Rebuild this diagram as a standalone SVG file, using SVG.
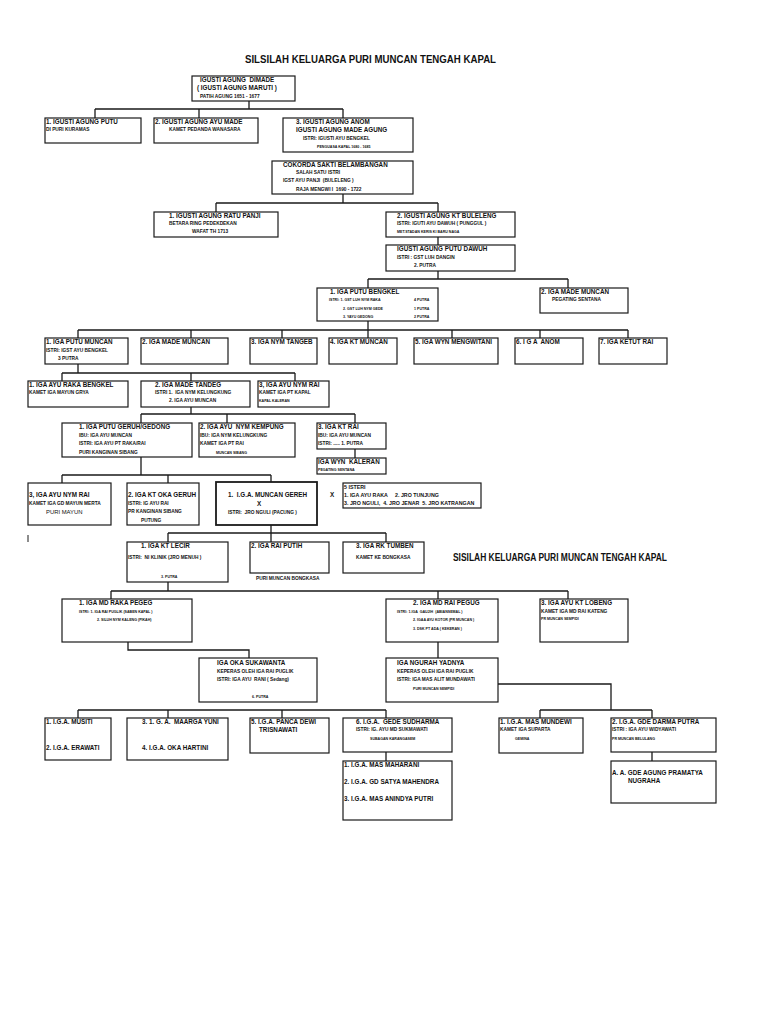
<svg xmlns="http://www.w3.org/2000/svg" width="768" height="1024" viewBox="0 0 768 1024">
<style>
text{font-family:"Liberation Sans",Arial,sans-serif;font-weight:bold;fill:#111;white-space:pre}
.t{font-size:10.5px}
.n{font-size:6.3px}
.s{font-size:4.8px}
.m{font-size:5.3px}
.x{font-size:3.6px}
.r{font-size:5.9px;font-weight:normal}
rect{fill:#fff;stroke:#1a1a1a;stroke-width:1.2}
.thick{stroke-width:1.8}
#connectors path{fill:none;stroke:#1a1a1a;stroke-width:1.3}
</style>
<rect x="0" y="0" width="768" height="1024" style="fill:#fff;stroke:none"/>
<text class="t" x="245" y="63" textLength="251" lengthAdjust="spacingAndGlyphs">SILSILAH KELUARGA PURI MUNCAN TENGAH KAPAL</text>
<text class="t" x="453" y="561" textLength="214" lengthAdjust="spacingAndGlyphs">SISILAH KELUARGA PURI MUNCAN TENGAH KAPAL</text>

<g id="connectors">
<path d="M249,101V109M95,109H343M95,109V118M199,109V118M343,109V118"/>
<path d="M343,194V203M216,203H438M216,203V212M438,203V212"/>
<path d="M438,237V245"/>
<path d="M438,271V279M368,279H568M368,279V288M568,279V288"/>
<path d="M368,321V330M78,330H628M78,330V338M191,330V338M282,330V338M368,330V338M452,330V338M540,330V338M628,330V338"/>
<path d="M78,364V373M62,373H295M62,373V381M191,373V381M295,373V381"/>
<path d="M191,407V414M141,414H355M141,414V423M227,414V423M355,414V423"/>
<path d="M355,449V458"/>
<path d="M141,457V475M62,475H271M62,475V483M168,475V483M271,475V482"/>
<path d="M271,525V533M168,533H386M168,533V542M271,533V542M386,533V542"/>
<path d="M168,582V591M111,591H568M111,591V599M438,591V599M568,591V599"/>
<path d="M128,642V650H249V658"/>
<path d="M438,642V658"/>
<path d="M78,710H386M78,710V718M168,710V718M282,710V718M386,710V718"/>
<path d="M498,684H611V710M540,710H652M540,710V718M652,710V718"/>
<path d="M386,752V761"/>
<path d="M652,752V761"/>
<path d="M28,535V542" style="stroke-width:1"/>
</g>

<g id="n1"><rect x="192" y="76" width="103" height="25"/>
<text class="n" x="200" y="82">IGUSTI AGUNG  DIMADE</text>
<text class="n" x="197" y="90">( IGUSTI AGUNG MARUTI )</text>
<text class="s" x="200" y="98">PATIH AGUNG 1651 - 1677</text></g>

<g id="n2"><rect x="45" y="118" width="96" height="25"/>
<text class="n" x="46" y="124">1. IGUSTI AGUNG PUTU</text>
<text class="s" x="46" y="131">DI PURI KURAMAS</text></g>

<g id="n3"><rect x="154" y="118" width="104" height="25"/>
<text class="n" x="155" y="124">2. IGUSTI AGUNG AYU MADE</text>
<text class="s" x="169" y="131">KAMET PEDANDA WANASARA</text></g>

<g id="n4"><rect x="283" y="118" width="130" height="34"/>
<text class="n" x="296" y="124">3. IGUSTI AGUNG ANOM</text>
<text class="n" x="296" y="132">IGUSTI AGUNG MADE AGUNG</text>
<text class="s" x="303" y="140">ISTRI: IGUSTI AYU BENGKEL</text>
<text class="x" x="317" y="148">PENGUASA KAPAL 1680 - 1685</text></g>

<g id="n5"><rect x="272" y="161" width="141" height="33"/>
<text class="n" x="283" y="167">COKORDA SAKTI BELAMBANGAN</text>
<text class="s" x="296" y="174">SALAH SATU ISTRI</text>
<text class="s" x="283" y="182">IGST AYU PANJI  (BULELENG )</text>
<text class="s" x="296" y="191">RAJA MENGWI I  1690 - 1722</text></g>

<g id="n6"><rect x="154" y="212" width="124" height="25"/>
<text class="n" x="169" y="218">1. IGUSTI AGUNG RATU PANJI</text>
<text class="s" x="169" y="225">BETARA RING PEDEKDEKAN</text>
<text class="s" x="192" y="233">WAFAT TH 1713</text></g>

<g id="n7"><rect x="386" y="212" width="129" height="25"/>
<text class="n" x="397" y="218">2. IGUSTI AGUNG KT BULELENG</text>
<text class="s" x="397" y="225">ISTRI: IGUTI AYU DAWUH ( PUNGGUL )</text>
<text class="x" x="397" y="233">MET.STADAN KERIS KI BARU NAGA</text></g>

<g id="n8"><rect x="386" y="245" width="129" height="26"/>
<text class="n" x="397" y="251">IGUSTI AGUNG PUTU DAWUH</text>
<text class="s" x="397" y="259">ISTRI : GST LUH DANGIN</text>
<text class="s" x="414" y="267">2. PUTRA</text></g>

<g id="n9"><rect x="317" y="288" width="121" height="33"/>
<text class="n" x="330" y="294">1. IGA PUTU BENGKEL</text>
<text class="x" x="329" y="301">ISTRI: 1. GST LUH NYM RAKA</text>
<text class="x" x="414" y="301">4 PUTRA</text>
<text class="x" x="343" y="310">2. GST LUH NYM GEDE</text>
<text class="x" x="414" y="310">1 PUTRA</text>
<text class="x" x="343" y="318">3. YAYU GEDONG</text>
<text class="x" x="414" y="318">2 PUTRA</text></g>

<g id="n10"><rect x="540" y="288" width="88" height="25"/>
<text class="n" x="541" y="294">2. IGA MADE MUNCAN</text>
<text class="s" x="552" y="301">PEGATING SENTANA</text></g>

<g id="n11"><rect x="45" y="338" width="83" height="26"/>
<text class="n" x="46" y="344">1. IGA PUTU MUNCAN</text>
<text class="s" x="46" y="352">ISTRI: IGST AYU BENGKEL</text>
<text class="s" x="58" y="360">3 PUTRA</text></g>

<g id="n12"><rect x="141" y="338" width="87" height="26"/>
<text class="n" x="142" y="344">2. IGA MADE MUNCAN</text></g>

<g id="n13"><rect x="250" y="338" width="67" height="26"/>
<text class="n" x="251" y="344">3. IGA NYM TANGEB</text></g>

<g id="n14"><rect x="329" y="338" width="68" height="26"/>
<text class="n" x="330" y="344">4. IGA KT MUNCAN</text></g>

<g id="n15"><rect x="414" y="338" width="84" height="26"/>
<text class="n" x="415" y="344">5. IGA WYN MENGWITANI</text></g>

<g id="n16"><rect x="515" y="338" width="68" height="26"/>
<text class="n" x="516" y="344">6. I G A  ANOM</text></g>

<g id="n17"><rect x="599" y="338" width="68" height="26"/>
<text class="n" x="600" y="344">7. IGA KETUT RAI</text></g>

<g id="n18"><rect x="28" y="381" width="100" height="26"/>
<text class="n" x="29" y="387">1. IGA AYU RAKA BENGKEL</text>
<text class="s" x="29" y="394">KAMET IGA MAYUN GRYA</text></g>

<g id="n19"><rect x="141" y="381" width="109" height="26"/>
<text class="n" x="155" y="387">2. IGA MADE TANDEG</text>
<text class="s" x="155" y="394">ISTRI 1.  IGA NYM KELUNGKUNG</text>
<text class="s" x="169" y="402">2. IGA AYU MUNCAN</text></g>

<g id="n20"><rect x="258" y="381" width="71" height="26"/>
<text class="n" x="259" y="387">3, IGA AYU NYM RAI</text>
<text class="s" x="259" y="394">KAMET IGA PT KAPAL</text>
<text class="x" x="259" y="402">KAPAL KALERAN</text></g>

<g id="n21"><rect x="62" y="423" width="130" height="34"/>
<text class="n" x="79" y="429">1. IGA PUTU GERUH/GEDONG</text>
<text class="s" x="79" y="437">IBU: IGA AYU MUNCAN</text>
<text class="s" x="79" y="445">ISTRI: IGA AYU PT RAKA/RAI</text>
<text class="s" x="79" y="454">PURI KANGINAN SIBANG</text></g>

<g id="n22"><rect x="199" y="423" width="96" height="34"/>
<text class="n" x="200" y="429">2. IGA AYU  NYM KEMPUNG</text>
<text class="s" x="200" y="437">IBU: IGA NYM KELUNGKUNG</text>
<text class="s" x="200" y="445">KAMET IGA PT RAI</text>
<text class="x" x="216" y="454">MUNCAN SIBANG</text></g>

<g id="n23"><rect x="317" y="423" width="69" height="26"/>
<text class="n" x="318" y="429">3. IGA KT RAI</text>
<text class="s" x="318" y="437">IBU: IGA AYU MUNCAN</text>
<text class="s" x="318" y="445">ISTRI: ..... 1. PUTRA</text></g>

<g id="n24"><rect x="317" y="458" width="69" height="16"/>
<text class="n" x="318" y="464">IGA WYN  KALERAN</text>
<text class="x" x="318" y="471">PEGATING SENTANA</text></g>

<g id="n25"><rect x="28" y="483" width="83" height="42"/>
<text class="n" x="29" y="497">3, IGA AYU NYM RAI</text>
<text class="s" x="29" y="505">KAMET IGA GD MAYUN MERTA</text>
<text class="r" x="46" y="514">PURI MAYUN</text></g>

<g id="n26"><rect x="127" y="483" width="72" height="42"/>
<text class="n" x="128" y="497">2. IGA KT OKA GERUH</text>
<text class="s" x="128" y="505">ISTRI: IG AYU RAI</text>
<text class="s" x="128" y="513">PR KANGINAN SIBANG</text>
<text class="s" x="141" y="522">PUTUNG</text></g>

<g id="n27"><rect class="thick" x="216" y="482" width="101" height="43"/>
<text class="n" x="228" y="497">1.  I.G.A. MUNCAN GEREH</text>
<text class="n" x="257" y="506">X</text>
<text class="s" x="228" y="514">ISTRI:  JRO NGULI (PACUNG )</text></g>

<text class="n" x="330" y="497">X</text>

<g id="n28"><rect x="343" y="483" width="138" height="25"/>
<text class="m" x="344" y="489">5 ISTERI</text>
<text class="m" x="344" y="497">1. IGA AYU RAKA     2. JRO TUNJUNG</text>
<text class="m" x="344" y="505">3. JRO NGULI,  4. JRO JENAR  5. JRO KATRANGAN</text></g>

<g id="n29"><rect x="127" y="542" width="101" height="40"/>
<text class="n" x="141" y="548">1. IGA KT LECIR</text>
<text class="s" x="128" y="559">ISTRI:  NI KLINIK (JRO MENUH )</text>
<text class="x" x="161" y="578">3. PUTRA</text></g>

<g id="n30"><rect x="250" y="542" width="79" height="31"/>
<text class="n" x="251" y="548">2. IGA RAI PUTIH</text>
<text class="s" x="256" y="580">PURI MUNCAN BONGKASA</text></g>

<g id="n31"><rect x="343" y="542" width="81" height="31"/>
<text class="n" x="356" y="548">3. IGA RK TUMBEN</text>
<text class="s" x="356" y="559">KAMET KE BONGKASA</text></g>

<g id="n32"><rect x="62" y="599" width="130" height="43"/>
<text class="n" x="79" y="605">1. IGA MD RAKA PEGEG</text>
<text class="x" x="79" y="613">ISTRI: 1. IGA RAI PUGLIK (SABEN KAPAL )</text>
<text class="x" x="97" y="621">2. SILUH NYM KALENG (PIKAH)</text></g>

<g id="n33"><rect x="386" y="599" width="112" height="43"/>
<text class="n" x="413" y="605">2. IGA MD RAI PEGUG</text>
<text class="x" x="397" y="613">ISTRI: 1.IGA  GAUJIH  (ABIANSEMAL )</text>
<text class="x" x="413" y="621">2. IGAA AYU KOTOR (PR MUNCAN )</text>
<text class="x" x="413" y="630">3. DSK PT ADA ( KEKERAN )</text></g>

<g id="n34"><rect x="540" y="599" width="88" height="43"/>
<text class="n" x="541" y="605">3. IGA AYU KT LOBENG</text>
<text class="s" x="541" y="613">KAMET IGA MD RAI KATENG</text>
<text class="x" x="541" y="620">PR MUNCAN SEMPIDI</text></g>

<g id="n35"><rect x="199" y="658" width="118" height="44"/>
<text class="n" x="217" y="665">IGA OKA SUKAWANTA</text>
<text class="s" x="217" y="673">KEPERAS OLEH IGA RAI PUGLIK</text>
<text class="s" x="217" y="681">ISTRI: IGA AYU  RANI ( Sedang)</text>
<text class="x" x="252" y="698">6. PUTRA</text></g>

<g id="n36"><rect x="386" y="658" width="112" height="44"/>
<text class="n" x="397" y="665">IGA NGURAH YADNYA</text>
<text class="s" x="397" y="673">KEPERAS OLEH IGA RAI PUGLIK</text>
<text class="s" x="397" y="681">ISTRI: IGA MAS ALIT MUNDAWATI</text>
<text class="x" x="413" y="690">PURI MUNCAN SEMPIDI</text></g>

<g id="n37"><rect x="45" y="718" width="66" height="42"/>
<text class="n" x="46" y="724">1. I.G.A. MUSITI</text>
<text class="n" x="46" y="750">2. I.G.A. ERAWATI</text></g>

<g id="n38"><rect x="127" y="718" width="101" height="42"/>
<text class="n" x="142" y="724">3. 1. G. A.  MAARGA YUNI</text>
<text class="n" x="142" y="750">4. I.G.A. OKA HARTINI</text></g>

<g id="n39"><rect x="250" y="718" width="79" height="35"/>
<text class="n" x="251" y="724">5. I.G.A. PANCA DEWI</text>
<text class="n" x="259" y="732">TRISNAWATI</text></g>

<g id="n40"><rect x="343" y="718" width="109" height="34"/>
<text class="n" x="356" y="724">6. I.G.A.  GEDE SUDHARMA</text>
<text class="s" x="356" y="731">ISTRI: IG. AYU MD SUKMAWATI</text>
<text class="x" x="370" y="740">SUBAGAN KARANGASEM</text></g>

<g id="n41"><rect x="343" y="761" width="109" height="59"/>
<text class="n" x="344" y="767">1. I.G.A. MAS MAHARANI</text>
<text class="n" x="344" y="784">2. I.G.A. GD SATYA MAHENDRA</text>
<text class="n" x="344" y="801">3. I.G.A. MAS ANINDYA PUTRI</text></g>

<g id="n42"><rect x="499" y="718" width="84" height="35"/>
<text class="n" x="500" y="724">1. I.G.A. MAS MUNDEWI</text>
<text class="s" x="500" y="731">KAMET IGA SUPARTA</text>
<text class="x" x="515" y="740">GEMINA</text></g>

<g id="n43"><rect x="611" y="718" width="105" height="34"/>
<text class="n" x="612" y="724">2. I.G.A. GDE DARMA PUTRA</text>
<text class="s" x="612" y="731">ISTRI : IGA AYU WIDYAWATI</text>
<text class="x" x="612" y="740">PR MUNCAN BELULANG</text></g>

<g id="n44"><rect x="611" y="761" width="105" height="42"/>
<text class="n" x="612" y="775">A. A. GDE AGUNG PRAMATYA</text>
<text class="n" x="628" y="783">NUGRAHA</text></g>
</svg>
